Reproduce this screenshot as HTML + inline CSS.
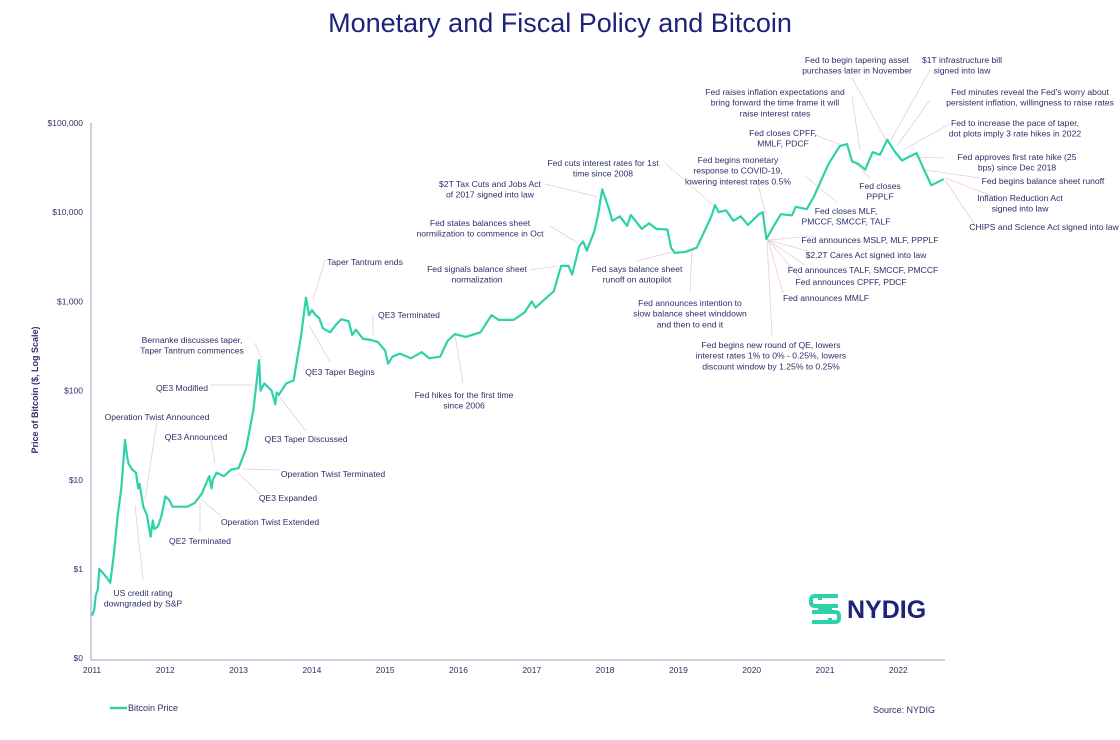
<!DOCTYPE html>
<html><head><meta charset="utf-8">
<style>
body{margin:0;background:#fff;}
svg text{font-family:"Liberation Sans",sans-serif;fill:#2b2f6b;}
</style></head>
<body>
<svg id="chart" width="1120" height="735" viewBox="0 0 1120 735">
<text x="560" y="32" text-anchor="middle" font-size="27" style="fill:#1d2378">Monetary and Fiscal Policy and Bitcoin</text>
<g id="axes"></g>
<g id="leaders" stroke="#ecc9df" stroke-width="0.8" fill="none"></g>
<g id="series"></g>
<g id="notes" font-size="8.6" text-anchor="middle"></g>
<text x="38" y="390" font-size="9" font-weight="bold" text-anchor="middle" transform="rotate(-90 38 390)">Price of Bitcoin ($, Log Scale)</text>
<g>
<g stroke="#2fd1a9" stroke-width="4" fill="none">
<path d="M838 596 H815 Q811 596 811 600 V602 Q811 606 815 606 H838"/>
<path d="M812 612 H835 Q839 612 839 616 V618 Q839 622 835 622 H812"/>
<path d="M820 594 V600 M830 618 V624 M818 609 H832"/>
</g>
<text x="847" y="618" font-size="25" font-weight="bold" style="fill:#1d2378">NYDIG</text>
</g>
<line x1="110" y1="708" x2="127" y2="708" stroke="#2fd1a9" stroke-width="2.5"/>
<text x="128" y="711" font-size="9">Bitcoin Price</text>
<text x="873" y="713" font-size="9">Source: NYDIG</text>
</svg>
<script>
const years=[2011.0,2011.03,2011.05,2011.08,2011.1,2011.15,2011.2,2011.25,2011.3,2011.35,2011.4,2011.45,2011.48,2011.5,2011.55,2011.6,2011.63,2011.65,2011.7,2011.75,2011.8,2011.83,2011.85,2011.9,2011.95,2012.0,2012.05,2012.1,2012.2,2012.3,2012.4,2012.5,2012.6,2012.63,2012.65,2012.7,2012.8,2012.9,2013.0,2013.1,2013.2,2013.28,2013.3,2013.35,2013.4,2013.45,2013.5,2013.52,2013.55,2013.65,2013.75,2013.85,2013.92,2013.96,2014.0,2014.05,2014.1,2014.15,2014.25,2014.33,2014.4,2014.5,2014.55,2014.6,2014.7,2014.8,2014.9,2015.0,2015.04,2015.1,2015.2,2015.35,2015.5,2015.6,2015.75,2015.85,2015.95,2016.1,2016.3,2016.45,2016.55,2016.75,2016.9,2017.0,2017.05,2017.2,2017.3,2017.4,2017.5,2017.55,2017.65,2017.7,2017.75,2017.85,2017.9,2017.96,2018.05,2018.1,2018.2,2018.3,2018.35,2018.5,2018.6,2018.7,2018.85,2018.9,2018.95,2019.1,2019.25,2019.35,2019.45,2019.5,2019.55,2019.65,2019.75,2019.85,2019.95,2020.1,2020.15,2020.2,2020.3,2020.4,2020.55,2020.6,2020.75,2020.85,2020.95,2021.05,2021.2,2021.3,2021.37,2021.45,2021.55,2021.65,2021.75,2021.85,2021.95,2022.05,2022.15,2022.25,2022.35,2022.45,2022.55,2022.62];
const prices=[0.3,0.35,0.5,0.6,1.0,0.9,0.8,0.7,1.5,4,8,28,18,15,13,12,8,9,5,4,2.3,3.5,2.8,3,4,6.5,6,5,5,5,5.5,7,11,8,10,12,11,13,13.5,22,60,220,100,120,110,100,70,95,90,120,130,400,1100,700,800,700,650,500,450,550,630,600,420,480,380,370,350,280,200,240,260,230,270,230,240,360,430,400,450,700,620,620,750,1000,850,1100,1300,2500,2500,2000,4200,4700,3700,6000,9000,18000,11000,8000,9000,7000,9300,6500,7500,6500,6400,4000,3500,3600,4000,6000,9000,12000,10000,10500,8000,9000,7200,9500,10000,5000,7000,9500,9200,11500,10800,15000,23000,35000,55000,58000,37000,35000,30000,47000,44000,65000,48000,38000,42000,46000,30000,20000,22000,23500];
const tickYears=[2011,2012,2013,2014,2015,2016,2017,2018,2019,2020,2021,2022];
const tickPrices=[0.1,1,10,100,1000,10000,100000];
const tickLabels=["$0","$1","$10","$100","$1,000","$10,000","$100,000"];
const NS="http://www.w3.org/2000/svg";
const X=y=>92+(y-2011)*73.3;
const Y=p=>569-Math.log10(p)*89.2;
function mk(tag,attrs,parent){const e=document.createElementNS(NS,tag);for(const k in attrs)e.setAttribute(k,attrs[k]);parent.appendChild(e);return e;}
const axes=document.getElementById('axes');
let a=mk('line',{x1:91,y1:123,x2:91,y2:660,stroke:'#9a9cc0','stroke-width':1},axes);


a=mk('line',{x1:91,y1:660,x2:945,y2:660,stroke:'#9a9cc0','stroke-width':1},axes);


tickYears.forEach(t=>{const e=mk('text',{x:X(t),y:673,'font-size':8.5,'text-anchor':'middle'},axes);e.textContent=t;

});
tickPrices.forEach((p,i)=>{const e=mk('text',{x:83,y:Y(p)+3,'font-size':8.5,'text-anchor':'end'},axes);e.textContent=tickLabels[i];

});
const d=years.map((y,i)=>(i?'L':'M')+X(y).toFixed(1)+' '+Y(prices[i]).toFixed(1)).join(' ');
const line=mk('path',{d:d,fill:'none',stroke:'#2fd1a9','stroke-width':2.2,'stroke-linejoin':'round'},document.getElementById('series'));


const notes=[
[192,340,["Bernanke discusses taper,","Taper Tantrum commences"],255,343,262,360],
[182,388,["QE3 Modified"],210,385,252,385],
[157,417,["Operation Twist Announced"],157,421,145,500],
[196,437,["QE3 Announced"],211,440,215,463],
[306,439,["QE3 Taper Discussed"],306,431,278,395],
[333,474,["Operation Twist Terminated"],280,470,243,469],
[288,498,["QE3 Expanded"],260,494,238,473],
[270,522,["Operation Twist Extended"],222,517,202,500],
[200,541,["QE2 Terminated"],200,532,200,503],
[143,593,["US credit rating","downgraded by S&P"],143,580,135,505],
[365,262,["Taper Tantrum ends"],325,260,313,300],
[409,315,["QE3 Terminated"],373,315,373,335],
[340,372,["QE3 Taper Begins"],330,362,309,325],
[464,395,["Fed hikes for the first time","since 2006"],463,383,455,335],
[477,269,["Fed signals balance sheet","normalization"],530,270,558,266],
[480,223,["Fed states balances sheet","normilization to commence in Oct"],550,226,578,243],
[490,184,["$2T Tax Cuts and Jobs Act","of 2017 signed into law"],545,184,598,197],
[603,163,["Fed cuts interest rates for 1st","time since 2008"],665,163,713,205],
[738,160,["Fed begins monetary","response to COVID-19,","lowering interest rates 0.5%"],758,185,766,215],
[637,269,["Fed says balance sheet","runoff on autopilot"],637,261,672,252],
[690,303,["Fed announces intention to","slow balance sheet winddown","and then to end it"],690,292,692,250],
[771,345,["Fed begins new round of QE, lowers","interest rates 1% to 0% - 0.25%, lowers","discount window by 1.25% to 0.25%"],772,336,767,240],
[826,298,["Fed announces MMLF"],783,293,768,240],
[851,282,["Fed announces CPFF, PDCF"],800,278,768,240],
[863,270,["Fed announces TALF, SMCCF, PMCCF"],805,265,768,240],
[866,255,["$2.2T Cares Act signed into law"],808,251,768,240],
[870,240,["Fed announces MSLP, MLF, PPPLF"],815,236,768,240],
[846,211,["Fed closes MLF,","PMCCF, SMCCF, TALF"],838,203,805,176],
[880,186,["Fed closes","PPPLF"],870,178,852,160],
[783,133,["Fed closes CPFF,","MMLF, PDCF"],815,135,842,145],
[775,92,["Fed raises inflation expectations and","bring forward the time frame it will","raise interest rates"],852,97,860,150],
[857,60,["Fed to begin tapering asset","purchases later in November"],852,78,886,140],
[962,60,["$1T infrastructure bill","signed into law"],930,70,891,140],
[1030,92,["Fed minutes reveal the Fed's worry about","persistent inflation, willingness to raise rates"],930,100,897,146],
[1015,123,["Fed to increase the pace of taper,","dot plots imply 3 rate hikes in 2022"],950,124,903,150],
[1017,157,["Fed approves first rate hike (25","bps) since Dec 2018"],945,158,912,157],
[1043,181,["Fed begins balance sheet runoff"],980,178,925,170],
[1020,198,["Inflation Reduction Act","signed into law"],1000,199,945,178],
[1044,227,["CHIPS and Science Act signed into law"],975,225,945,180]
];
const ng=document.getElementById('notes'),lg=document.getElementById('leaders');
notes.forEach(n=>{
 const l=mk('line',{x1:n[3],y1:n[4],x2:n[5],y2:n[6]},lg);
 
 
 const t=mk('text',{x:n[0],y:n[1]+3},ng);
 
 
 n[2].forEach((s,i)=>{const ts=mk('tspan',{x:n[0],dy:i?10.7:0},t);ts.textContent=s;});
});
</script>
</body></html>
